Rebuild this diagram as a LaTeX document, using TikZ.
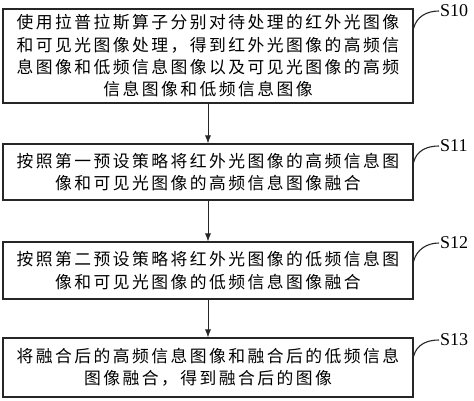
\documentclass[tikz,border=0pt]{standalone}
\usepackage{fontspec}
\setmainfont{Liberation Serif}
\newfontfamily\cjk{Noto Sans CJK SC}
\usetikzlibrary{arrows.meta}
% spacing between the Chinese characters
\newXeTeXintercharclass\hanclass
\newcount\hancode
\hancode="4E00
\loop
  \XeTeXcharclass\hancode=\hanclass
  \advance\hancode by 1
\ifnum\hancode<"A000 \repeat
\XeTeXcharclass"FF0C=\hanclass
\XeTeXinterchartokenstate=1
\XeTeXinterchartoks\hanclass\hanclass = {\hskip 2.45pt\relax}

\begin{document}
\begin{tikzpicture}[x=1pt,y=-1pt,
    stepbox/.style={draw=black!85,line width=1.1pt,text width=410pt,align=center,
        inner sep=0pt,font=\cjk\fontsize{16.8}{22.3}\selectfont},
    steptag/.style={anchor=west,inner sep=1pt,font=\fontsize{18}{20}\selectfont},
    flow/.style={line width=0.9pt,black!85,-{Latex[length=8pt,width=6pt]}},
    hook/.style={line width=1.1pt,black!85}]
    \useasboundingbox (0,0) rectangle (474,401);
    % steps
    \node[stepbox,minimum height=94pt] (s10) at (208,56)
        {使用拉普拉斯算子分别对待处理的红外光图像\\和可见光图像处理，得到红外光图像的高频信\\息图像和低频信息图像以及可见光图像的高频\\信息图像和低频信息图像};
    \node[stepbox,minimum height=56pt] (s11) at (208,172)
        {按照第一预设策略将红外光图像的高频信息图\\像和可见光图像的高频信息图像融合};
    \node[stepbox,minimum height=57pt] (s12) at (208,270.5)
        {按照第二预设策略将红外光图像的低频信息图\\像和可见光图像的低频信息图像融合};
    \node[stepbox,minimum height=59pt] (s13) at (208,367.5)
        {将融合后的高频信息图像和融合后的低频信息\\图像融合，得到融合后的图像};
    % tags
    \node[steptag] (t10) at (439,11) {S10};
    \node[steptag] (t11) at (439,146) {S11};
    \node[steptag] (t12) at (439,243) {S12};
    \node[steptag] (t13) at (439,340) {S13};
    % arrows
    \draw[flow] (s10) -- (s11);
    \draw[flow] (s11) -- (s12);
    \draw[flow] (s12) -- (s13);
    % hooks
    \draw[hook] ([yshift=-20pt]s10.north east) .. controls +(3,-12) and +(-12,0) .. (t10.west);
    \draw[hook] ([yshift=-19pt]s11.north east) .. controls +(3,-12) and +(-12,0) .. (t11.west);
    \draw[hook] ([yshift=-20pt]s12.north east) .. controls +(3,-12) and +(-12,0) .. (t12.west);
    \draw[hook] ([yshift=-19pt]s13.north east) .. controls +(3,-12) and +(-12,0) .. (t13.west);
\end{tikzpicture}
\end{document}
